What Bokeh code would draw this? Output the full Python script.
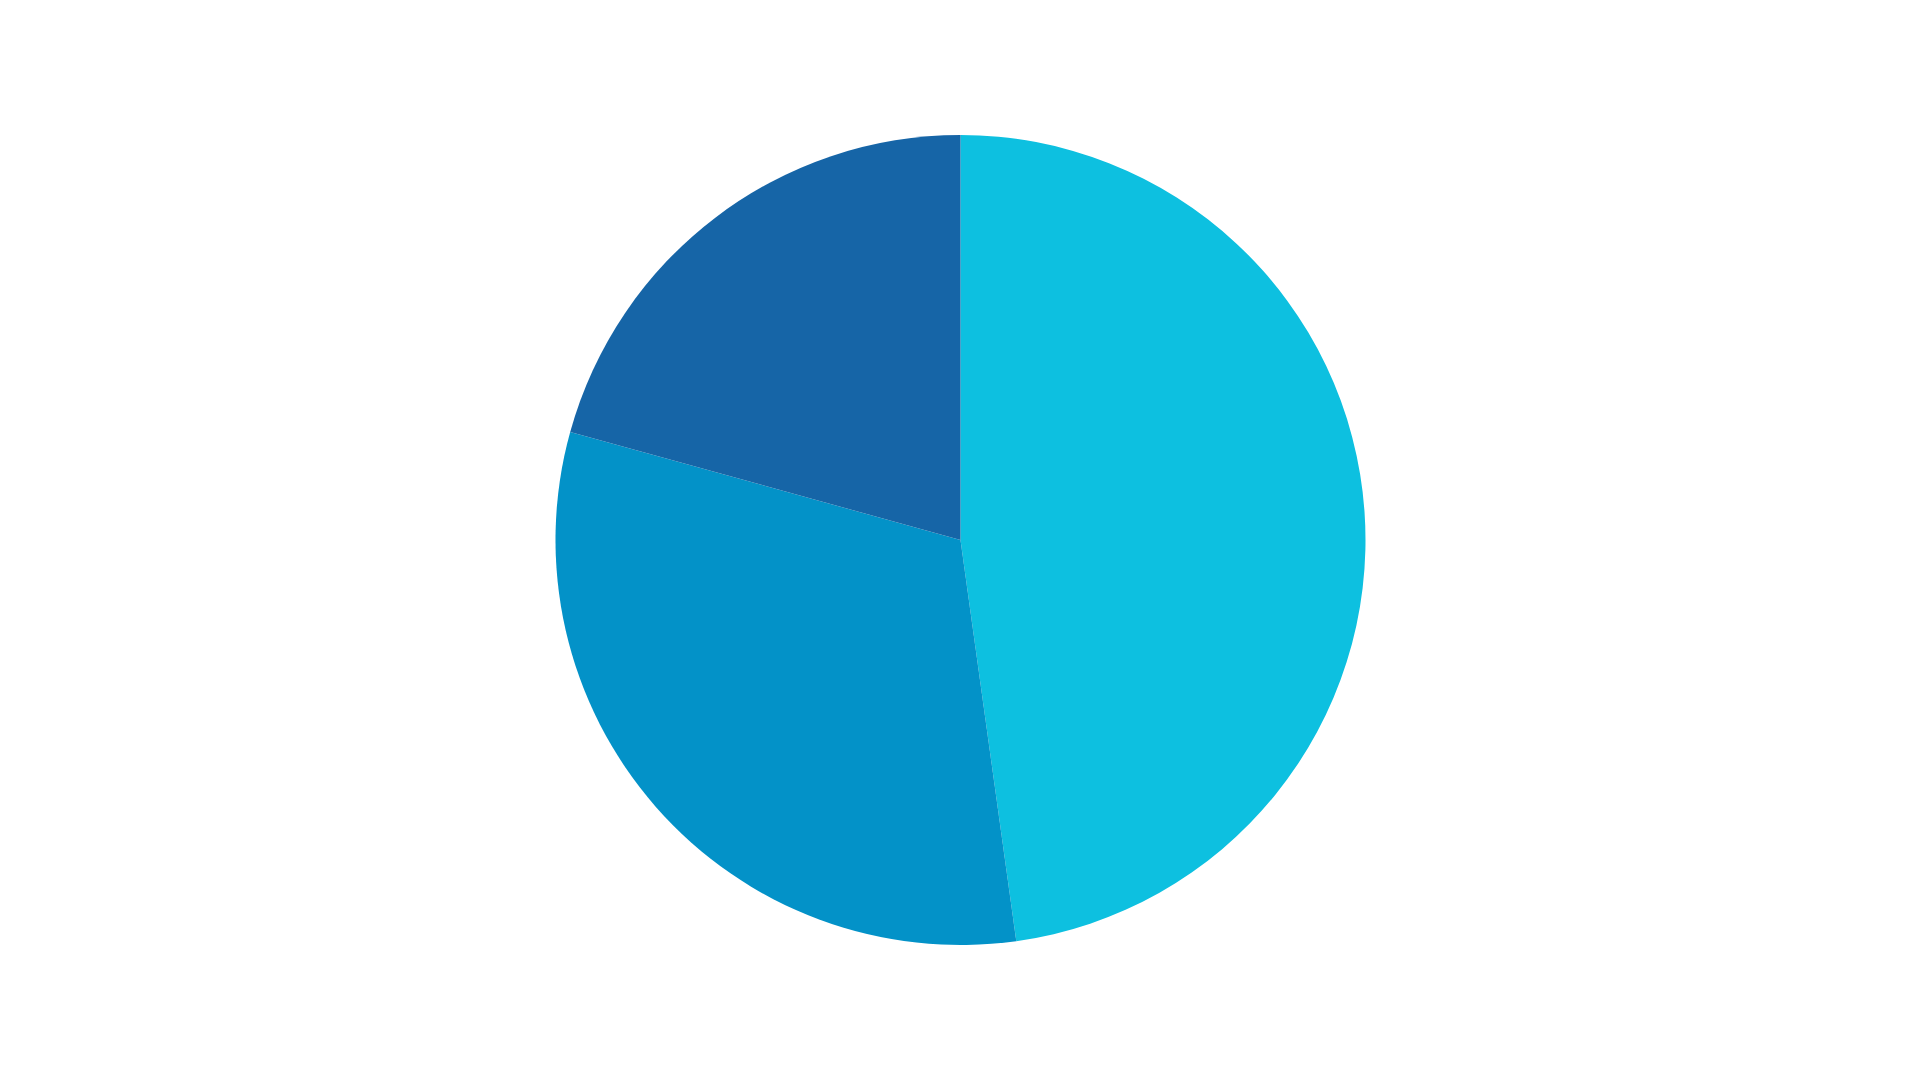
from math import pi
from bokeh.plotting import figure
from bokeh.models import ColumnDataSource
from bokeh.embed import file_html
from bokeh.resources import INLINE

categories = ["A", "B", "C"]
values = [47.8, 31.5, 20.7]
colors = ["#0DC0E0", "#0392C8", "#1665A7"]

total = sum(values)
starts, ends = [], []
cum = 0.0
for v in values:
    starts.append(pi / 2 - cum / total * 2 * pi)
    cum += v
    ends.append(pi / 2 - cum / total * 2 * pi)

src = ColumnDataSource(dict(cat=categories, val=values, start=starts, end=ends, color=colors,
                            x=[8] * len(values), y=[-7.5] * len(values)))

W, H = 1904, 1064
p = figure(width=W, height=H, output_backend="svg", toolbar_location=None,
           x_range=(-W / 2, W / 2), y_range=(-H / 2, H / 2), min_border=0)
p.wedge(x="x", y="y", radius=405, start_angle="start", end_angle="end",
        direction="clock", fill_color="color", line_color=None, source=src)
p.axis.visible = False
p.grid.visible = False
p.outline_line_color = None
p.background_fill_color = "white"

open("out.html", "w").write(file_html(p, INLINE))
